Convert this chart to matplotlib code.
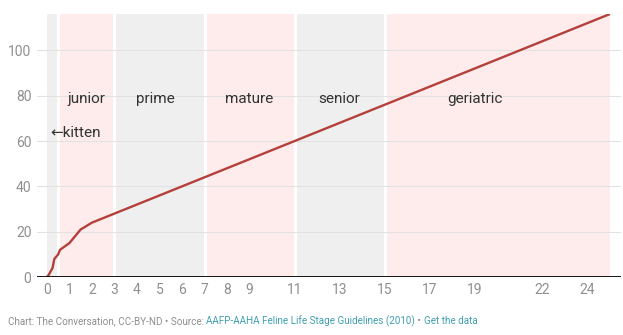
import matplotlib.pyplot as plt

plt.rcParams['font.family'] = ['Roboto', 'DejaVu Sans']

# cat age (years) -> human-equivalent age
cat_age = [0, 0.083, 0.25, 0.33, 0.5, 0.58, 1, 1.25, 1.5, 2,
           3, 4, 5, 6, 7, 8, 9, 10, 11, 12, 13, 14, 15, 16,
           17, 18, 19, 20, 21, 22, 23, 24, 25]
human_age = [0, 1, 4, 8, 10, 12, 15, 18, 21, 24,
             28, 32, 36, 40, 44, 48, 52, 56, 60, 64, 68, 72, 76, 80,
             84, 88, 92, 96, 100, 104, 108, 112, 116]

# life stages
stage_names = ["kitten", "junior", "prime", "mature", "senior", "geriatric"]
stage_start = [0, 0.5, 3, 7, 11, 15]
stage_end = [0.5, 3, 7, 11, 15, 25]
stage_label_x = [0.13, 1.75, 4.8, 9, 13, 19]

x_ticks = [0, 1, 2, 3, 4, 5, 6, 7, 8, 9, 11, 13, 15, 17, 19, 22, 24]
y_ticks = [0, 20, 40, 60, 80, 100]

grey_band = "#efefef"
pink_band = "#fdeceb"
line_col = "#b5403b"
text_grey = "#8f8f8f"
teal = "#3f9fb2"

fig = plt.figure(figsize=(6.23, 3.35), dpi=100)
ax = fig.add_axes([0.0594, 0.173, 0.9376, 0.785])

for i, name in enumerate(stage_names):
    col = grey_band if i % 2 == 0 else pink_band
    ax.axvspan(stage_start[i], stage_end[i], color=col, lw=0, zorder=0)
for b in stage_start[1:]:
    ax.axvline(b, color="white", lw=2.2, zorder=0.5)

for y in y_ticks[1:]:
    ax.axhline(y, color="#e2e2e2", lw=0.8, zorder=1)

ax.plot(cat_age, human_age, color=line_col, lw=1.7, zorder=3, solid_capstyle="butt")
ax.axhline(0, color="black", lw=2, zorder=4)

for i, name in enumerate(stage_names):
    if name == "kitten":
        ax.text(stage_label_x[i], 63.5, "\u2190kitten", fontsize=11, color="#333333",
                ha="left", va="center", zorder=5)
    else:
        ax.text(stage_label_x[i], 78.5, name, fontsize=11, color="#333333",
                ha="center", va="center", zorder=5)

ax.set_xlim(-0.44, 25.5)
ax.set_ylim(0, 116)
ax.set_xticks(x_ticks)
ax.set_yticks(y_ticks)
ax.tick_params(axis="both", length=0, labelsize=10, colors=text_grey)
ax.tick_params(axis="x", pad=4)
ax.tick_params(axis="y", pad=4)
for s in ax.spines.values():
    s.set_visible(False)

# footer with source credit, pieces laid side by side
parts = [("Chart: The Conversation, CC-BY-ND \u2022 Source: ", text_grey),
         ("AAFP-AAHA Feline Life Stage Guidelines (2010)", teal),
         (" \u2022 ", text_grey),
         ("Get the data", teal)]
renderer = fig.canvas.get_renderer()
x_px = 8
y_fig = 1 - 324 / 335
for txt, col in parts:
    t = fig.text(x_px / 623, y_fig, txt, fontsize=7.15, color=col,
                 va="baseline", ha="left")
    x_px = t.get_window_extent(renderer).x1

fig.savefig("out.png", dpi=100)
